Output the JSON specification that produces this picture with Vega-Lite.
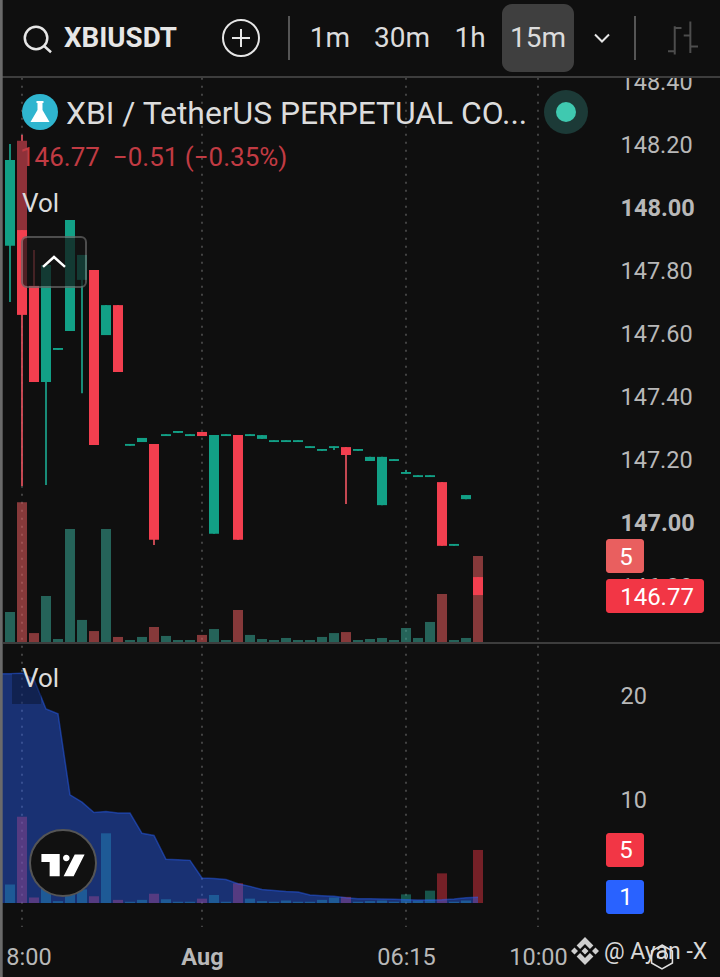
{"$schema":"https://vega.github.io/schema/vega-lite/v6.json","width":720,"height":977,"padding":0,"autosize":{"type":"none"},"background":"#0f0f0f","config":{"view":{"stroke":null},"text":{"font":"Roboto"},"scale":{"continuousPadding":0}},
"datasets":{
"ohlcv":[
{"i":0,"dir":"up","open":147.877,"close":148.149,"high":148.2,"low":147.699,"vol":1.78},
{"i":1,"dir":"down","open":147.927,"close":147.658,"high":148.228,"low":147.116,"vol":8.3},
{"i":2,"dir":"down","open":147.75,"close":147.445,"high":147.864,"low":147.445,"vol":0.53},
{"i":3,"dir":"up","open":147.445,"close":147.816,"high":147.816,"low":147.119,"vol":2.73},
{"i":4,"dir":"up","open":147.547,"close":147.553,"high":147.553,"low":147.547,"vol":0.18},
{"i":5,"dir":"up","open":147.607,"close":147.959,"high":147.959,"low":147.607,"vol":6.7},
{"i":6,"dir":"up","open":147.769,"close":147.848,"high":147.848,"low":147.41,"vol":1.31},
{"i":7,"dir":"down","open":147.8,"close":147.246,"high":147.8,"low":147.246,"vol":0.65},
{"i":8,"dir":"up","open":147.594,"close":147.689,"high":147.689,"low":147.594,"vol":6.7},
{"i":9,"dir":"down","open":147.689,"close":147.477,"high":147.689,"low":147.477,"vol":0.3},
{"i":10,"dir":"up","open":147.243,"close":147.249,"high":147.249,"low":147.243,"vol":0.12},
{"i":11,"dir":"up","open":147.255,"close":147.268,"high":147.268,"low":147.255,"vol":0.3},
{"i":12,"dir":"down","open":147.249,"close":146.945,"high":147.249,"low":146.929,"vol":0.89},
{"i":13,"dir":"up","open":147.274,"close":147.28,"high":147.28,"low":147.274,"vol":0.36},
{"i":14,"dir":"up","open":147.284,"close":147.29,"high":147.29,"low":147.284,"vol":0.12},
{"i":15,"dir":"up","open":147.274,"close":147.28,"high":147.28,"low":147.274,"vol":0.12},
{"i":16,"dir":"down","open":147.287,"close":147.274,"high":147.287,"low":147.274,"vol":0.42},
{"i":17,"dir":"up","open":146.964,"close":147.277,"high":147.277,"low":146.964,"vol":0.77},
{"i":18,"dir":"up","open":147.274,"close":147.28,"high":147.28,"low":147.274,"vol":0.12},
{"i":19,"dir":"down","open":147.277,"close":146.945,"high":147.277,"low":146.945,"vol":1.9},
{"i":20,"dir":"up","open":147.274,"close":147.28,"high":147.28,"low":147.274,"vol":0.42},
{"i":21,"dir":"up","open":147.265,"close":147.277,"high":147.277,"low":147.265,"vol":0.18},
{"i":22,"dir":"up","open":147.255,"close":147.261,"high":147.261,"low":147.255,"vol":0.12},
{"i":23,"dir":"up","open":147.255,"close":147.261,"high":147.261,"low":147.255,"vol":0.24},
{"i":24,"dir":"up","open":147.255,"close":147.261,"high":147.261,"low":147.255,"vol":0.12},
{"i":25,"dir":"up","open":147.236,"close":147.242,"high":147.242,"low":147.236,"vol":0.12},
{"i":26,"dir":"up","open":147.227,"close":147.233,"high":147.233,"low":147.227,"vol":0.3},
{"i":27,"dir":"up","open":147.236,"close":147.242,"high":147.242,"low":147.23,"vol":0.53},
{"i":28,"dir":"down","open":147.239,"close":147.214,"high":147.239,"low":147.059,"vol":0.59},
{"i":29,"dir":"up","open":147.227,"close":147.233,"high":147.233,"low":147.227,"vol":0.12},
{"i":30,"dir":"up","open":147.195,"close":147.208,"high":147.208,"low":147.195,"vol":0.18},
{"i":31,"dir":"up","open":147.055,"close":147.208,"high":147.208,"low":147.055,"vol":0.24},
{"i":32,"dir":"up","open":147.195,"close":147.201,"high":147.201,"low":147.195,"vol":0.12},
{"i":33,"dir":"up","open":147.154,"close":147.16,"high":147.166,"low":147.154,"vol":0.83},
{"i":34,"dir":"up","open":147.144,"close":147.15,"high":147.15,"low":147.144,"vol":0.24},
{"i":35,"dir":"up","open":147.144,"close":147.15,"high":147.15,"low":147.144,"vol":1.19},
{"i":36,"dir":"down","open":147.128,"close":146.926,"high":147.128,"low":146.926,"vol":2.85},
{"i":37,"dir":"up","open":146.926,"close":146.932,"high":146.932,"low":146.926,"vol":0.12},
{"i":38,"dir":"up","open":147.074,"close":147.087,"high":147.087,"low":147.074,"vol":0.24},
{"i":39,"dir":"down","open":146.827,"close":146.77,"high":146.827,"low":146.77,"vol":5.1}
],
"ma":[{"i":-1,"ma":22.05},{"i":0,"ma":22.05},{"i":1,"ma":22.08},{"i":2,"ma":21.5},{"i":3,"ma":18.65},{"i":4,"ma":18.2},{"i":5,"ma":10.4},{"i":6,"ma":9.7},{"i":7,"ma":8.7},{"i":8,"ma":8.8},{"i":9,"ma":8.65},{"i":10,"ma":8.65},{"i":11,"ma":6.7},{"i":12,"ma":6.5},{"i":13,"ma":4.2},{"i":14,"ma":4.15},{"i":15,"ma":4.1},{"i":16,"ma":2.4},{"i":17,"ma":2.35},{"i":18,"ma":2.25},{"i":19,"ma":1.85},{"i":20,"ma":1.6},{"i":21,"ma":1.3},{"i":22,"ma":1.2},{"i":23,"ma":1.1},{"i":24,"ma":1.05},{"i":25,"ma":0.77},{"i":26,"ma":0.7},{"i":27,"ma":0.65},{"i":28,"ma":0.5},{"i":29,"ma":0.42},{"i":30,"ma":0.4},{"i":31,"ma":0.38},{"i":32,"ma":0.35},{"i":33,"ma":0.32},{"i":34,"ma":0.3},{"i":35,"ma":0.3},{"i":36,"ma":0.32},{"i":37,"ma":0.38},{"i":38,"ma":0.5},{"i":39,"ma":0.55}],
"priceTicks":[{"price":148.4},{"price":148.2},{"price":148.0},{"price":147.8},{"price":147.6},{"price":147.4},{"price":147.2},{"price":147.0},{"price":146.8}],
"volTicks":[{"vol":0},{"vol":10},{"vol":20}],
"timeTicks":[{"i":1},{"i":16},{"i":33},{"i":44}]
},
"encoding":{"x":{"field":"i","type":"quantitative","scale":{"domain":[-0.8333,59.1667],"nice":false,"zero":false,"padding":0},"axis":{"orient":"bottom","offset":-20,"values":[1,16,33,44],"title":null,"domain":false,"ticks":false,"grid":false,"labelPadding":0,"labelBaseline":"middle","labelFont":"Roboto","labelFontSize":23.5,"labelColor":"#b8b8b8","labelOverlap":false,"labelFlush":false,"labelBound":false,"labelExpr":"datum.value==1?'8:00':datum.value==16?'Aug':datum.value==33?'06:15':'10:00'","labelFontWeight":{"condition":{"test":"datum.value==16","value":"bold"},"value":"normal"},"labelOffset":{"condition":{"test":"datum.value==1","value":6.5},"value":0}}}},
"resolve":{"scale":{"y":"independent"},"axis":{"y":"independent"}},
"layer":[
{"data":{"name":"priceTicks"},"mark":{"type":"rule","color":"#555555","strokeWidth":1.5,"strokeDash":[2,6]},"encoding":{"y":{"field":"price","type":"quantitative","scale":{"domain":[145.5594,148.6561],"zero":false,"nice":false},"axis":{"orient":"right","offset":-100,"values":[148.4,148.2,148,147.8,147.6,147.4,147.2,147,146.8],"format":".2f","title":null,"domain":false,"ticks":false,"grid":false,"labelPadding":0,"labelOffset":1.5,"labelAlign":"left","labelBaseline":"middle","labelFont":"Roboto","labelFontSize":23.5,"labelColor":"#b8b8b8","labelOverlap":false,"labelFlush":false,"labelBound":false,"labelFontWeight":{"condition":{"test":"datum.value==148||datum.value==147","value":"bold"},"value":"normal"}}},"x":{"datum":-0.583,"type":"quantitative","scale":{"domain":[-0.8333,59.1667],"nice":false,"zero":false,"padding":0}},"x2":{"datum":49}}},
{"data":{"name":"volTicks"},"mark":{"type":"rule","color":"#555555","strokeWidth":1.5,"strokeDash":[2,6]},"encoding":{"y":{"field":"vol","type":"quantitative","scale":{"domain":[-7.115,86.827],"zero":false,"nice":false},"axis":{"orient":"right","offset":-100,"values":[10,20],"format":"d","title":null,"domain":false,"ticks":false,"grid":false,"labelPadding":0,"labelOffset":1.5,"labelAlign":"left","labelBaseline":"middle","labelFont":"Roboto","labelFontSize":23.5,"labelColor":"#b8b8b8","labelOverlap":false,"labelFlush":false,"labelBound":false}},"x":{"datum":-0.583,"type":"quantitative","scale":{"domain":[-0.8333,59.1667],"nice":false,"zero":false,"padding":0}},"x2":{"datum":49}}},
{"data":{"name":"timeTicks"},"mark":{"type":"rule","color":"#555555","strokeWidth":1.5,"strokeDash":[2,6]},"encoding":{"y":{"datum":148.41,"type":"quantitative","scale":{"domain":[145.5594,148.6561],"zero":false,"nice":false},"axis":null},"y2":{"datum":145.718}}},
{"data":{"name":"ohlcv"},"mark":{"type":"bar","size":10,"opacity":0.45},"encoding":{"y":{"field":"vol","type":"quantitative","scale":{"domain":[-7.115,86.827],"zero":false,"nice":false},"axis":null},"y2":{"datum":0},"color":{"condition":{"test":"datum.dir=='up'","value":"#22ab94"},"value":"#f23645"}}},
{"data":{"name":"ma"},"mark":{"type":"area","color":"#2962ff","opacity":0.42,"orient":"vertical"},"encoding":{"y":{"field":"ma","type":"quantitative","scale":{"domain":[-7.115,86.827],"zero":false,"nice":false},"axis":null},"y2":{"datum":0}}},
{"data":{"name":"ma"},"mark":{"type":"line","color":"#2962ff","opacity":0.45,"strokeWidth":1.5},"encoding":{"y":{"field":"ma","type":"quantitative","scale":{"domain":[-7.115,86.827],"zero":false,"nice":false},"axis":null}}},
{"data":{"name":"ohlcv"},"mark":{"type":"bar","size":10,"opacity":0.53},"encoding":{"y":{"field":"vol","type":"quantitative","scale":{"domain":[-19.881,38.101],"zero":false,"nice":false},"axis":null},"y2":{"datum":0},"color":{"condition":{"test":"datum.dir=='up'","value":"#39ae9b"},"value":"#ef5f60"}}},
{"data":{"name":"ohlcv"},"mark":{"type":"rule","strokeWidth":1.8},"encoding":{"y":{"field":"high","type":"quantitative","scale":{"domain":[145.5594,148.6561],"zero":false,"nice":false},"axis":null},"y2":{"field":"low"},"color":{"condition":{"test":"datum.dir=='up'","value":"#1a9a84"},"value":"#d94f5a"}}},
{"data":{"name":"ohlcv"},"mark":{"type":"bar","size":10},"encoding":{"y":{"field":"open","type":"quantitative","scale":{"domain":[145.5594,148.6561],"zero":false,"nice":false},"axis":null},"y2":{"field":"close"},"color":{"condition":{"test":"datum.dir=='up'","value":"#12a086"},"value":"#f23f4f"}}},
{"data":{"values":[{"i":1,"top":148.21,"bottom":147.927}]},"mark":{"type":"bar","size":10,"color":"#8f3139"},"encoding":{"y":{"field":"top","type":"quantitative","scale":{"domain":[145.5594,148.6561],"zero":false,"nice":false},"axis":null},"y2":{"field":"bottom"}}},
{"data":{"values":[{"price":146.77}]},"mark":{"type":"rule","color":"#e0565d","strokeWidth":1.5,"strokeDash":[2,6]},"encoding":{"y":{"field":"price","type":"quantitative","scale":{"domain":[145.5594,148.6561],"zero":false,"nice":false},"axis":null},"x":{"datum":-0.583,"type":"quantitative","scale":{"domain":[-0.8333,59.1667],"nice":false,"zero":false,"padding":0}},"x2":{"datum":49.667}}},
{"data":{"values":[{"i":0.167,"i2":2.583,"top":146.5198,"bottom":146.4247}]},"mark":{"type":"rect","color":"#000000","opacity":0.3},"encoding":{"x2":{"field":"i2"},"y":{"field":"top","type":"quantitative","scale":{"domain":[145.5594,148.6561],"zero":false,"nice":false},"axis":null},"y2":{"field":"bottom"}}},
{"data":{"values":[{"i":1,"i2":6.333,"top":147.9049,"bottom":147.7464}]},"mark":{"type":"rect","color":"#141414","opacity":0.72,"stroke":"#666666","strokeWidth":2,"cornerRadius":5},"encoding":{"x2":{"field":"i2"},"y":{"field":"top","type":"quantitative","scale":{"domain":[145.5594,148.6561],"zero":false,"nice":false},"axis":null},"y2":{"field":"bottom"}}},
{"data":{"values":[{"i":3.667,"price":147.8257}]},"mark":{"type":"point","shape":"M-1,.45 L0,-.45 L1,.45","size":484,"filled":false,"opacity":1,"color":"#ffffff","strokeWidth":2.5},"encoding":{"y":{"field":"price","type":"quantitative","scale":{"domain":[145.5594,148.6561],"zero":false,"nice":false},"axis":null}}},
{"data":{"values":[{"i":-0.8333,"i2":59.1667,"top":148.6561,"bottom":148.4152}]},"mark":{"type":"rect","color":"#0f0f0f"},"encoding":{"x2":{"field":"i2"},"y":{"field":"top","type":"quantitative","scale":{"domain":[145.5594,148.6561],"zero":false,"nice":false},"axis":null},"y2":{"field":"bottom"}}},
{"data":{"values":[{"i":-0.8333,"i2":59.1667,"price":148.412},{"i":-0.583,"i2":59.1667,"price":146.618}]},"mark":{"type":"rule","color":"#3d3d3d","strokeWidth":2},"encoding":{"x2":{"field":"i2"},"y":{"field":"price","type":"quantitative","scale":{"domain":[145.5594,148.6561],"zero":false,"nice":false},"axis":null}}},
{"data":{"values":[{"i":-0.8333,"i2":-0.6083,"top":148.6561,"bottom":145.5594}]},"mark":{"type":"rect","color":"#6a6a6a"},"encoding":{"x2":{"field":"i2"},"y":{"field":"top","type":"quantitative","scale":{"domain":[145.5594,148.6561],"zero":false,"nice":false},"axis":null},"y2":{"field":"bottom"}}},
{"data":{"values":[{"i":23.25,"top":148.6054,"bottom":148.4659},{"i":52.083,"top":148.6054,"bottom":148.4659}]},"mark":{"type":"rule","color":"#555555","strokeWidth":2},"encoding":{"y":{"field":"top","type":"quantitative","scale":{"domain":[145.5594,148.6561],"zero":false,"nice":false},"axis":null},"y2":{"field":"bottom"}}},
{"data":{"values":[{"i":41,"i2":47,"top":148.6434,"bottom":148.4279}]},"mark":{"type":"rect","color":"#3f3f3f","cornerRadius":10},"encoding":{"x2":{"field":"i2"},"y":{"field":"top","type":"quantitative","scale":{"domain":[145.5594,148.6561],"zero":false,"nice":false},"axis":null},"y2":{"field":"bottom"}}},
{"data":{"values":[{"i":2.17,"price":148.5357}]},"mark":{"type":"point","shape":"M.75,0 A.75,.75 0 1 1 -.75,0 A.75,.75 0 1 1 .75,0 M.52,.52 L1,.95","size":900,"filled":false,"opacity":1,"color":"#e6e6e6","strokeWidth":2.5},"encoding":{"y":{"field":"price","type":"quantitative","scale":{"domain":[145.5594,148.6561],"zero":false,"nice":false},"axis":null}}},
{"data":{"values":[{"i":19.25,"price":148.5357}]},"mark":{"type":"point","shape":"M1.2,0 A1.2,1.2 0 1 1 -1.2,0 A1.2,1.2 0 1 1 1.2,0 M-.6,0 L.6,0 M0,-.6 L0,.6","size":900,"filled":false,"opacity":1,"color":"#e6e6e6","strokeWidth":2},"encoding":{"y":{"field":"price","type":"quantitative","scale":{"domain":[145.5594,148.6561],"zero":false,"nice":false},"axis":null}}},
{"data":{"values":[{"i":49.333,"price":148.5357}]},"mark":{"type":"point","shape":"M-1,-.5 L0,.5 L1,-.5","size":196,"filled":false,"opacity":1,"color":"#e6e6e6","strokeWidth":2},"encoding":{"y":{"field":"price","type":"quantitative","scale":{"domain":[145.5594,148.6561],"zero":false,"nice":false},"axis":null}}},
{"data":{"values":[{"i":56.083,"price":148.5357}]},"mark":{"type":"point","shape":"M-.55,-.78 L-.55,1.1 M-.55,-.67 L-.1,-.67 M-.55,.89 L-1,.89 M.49,-1.1 L.49,1 M.49,-.16 L.05,-.16 M.49,.56 L1,.56","size":900,"filled":false,"opacity":1,"color":"#4d4d4d","strokeWidth":2},"encoding":{"y":{"field":"price","type":"quantitative","scale":{"domain":[145.5594,148.6561],"zero":false,"nice":false},"axis":null}}},
{"data":{"values":[{"label":"XBIUSDT","i":4.5,"price":148.5357}]},"mark":{"type":"text","align":"left","baseline":"middle","dy":1.5,"font":"Roboto","fontSize":27.7,"fontWeight":"bold","color":"#e6e6e6"},"encoding":{"text":{"field":"label"},"y":{"field":"price","type":"quantitative","scale":{"domain":[145.5594,148.6561],"zero":false,"nice":false},"axis":null}}},
{"data":{"values":[{"label":"1m","i":26.667,"price":148.5357},{"label":"30m","i":32.667,"price":148.5357},{"label":"1h","i":38.333,"price":148.5357},{"label":"15m","i":44,"price":148.5357}]},"mark":{"type":"text","align":"center","baseline":"middle","dy":1.5,"font":"Roboto","fontSize":28,"color":"#dcdcdc"},"encoding":{"text":{"field":"label"},"y":{"field":"price","type":"quantitative","scale":{"domain":[145.5594,148.6561],"zero":false,"nice":false},"axis":null}}},
{"data":{"values":[{"i":2.5,"price":148.3011}]},"mark":{"type":"point","shape":"circle","size":1296,"filled":true,"opacity":1,"color":"#2fb5cf"},"encoding":{"y":{"field":"price","type":"quantitative","scale":{"domain":[145.5594,148.6561],"zero":false,"nice":false},"axis":null}}},
{"data":{"values":[{"i":2.5,"price":148.3011}]},"mark":{"type":"point","shape":"M-.35,-1.1 L.35,-1.1 L.35,-.9 L.25,-.9 L.25,-.2 L.95,1 L-.95,1 L-.25,-.2 L-.25,-.9 L-.35,-.9Z","size":400,"filled":true,"opacity":1,"color":"#ffffff"},"encoding":{"y":{"field":"price","type":"quantitative","scale":{"domain":[145.5594,148.6561],"zero":false,"nice":false},"axis":null}}},
{"data":{"values":[{"label":"XBI / TetherUS PERPETUAL CO...","i":4.667,"price":148.3011}]},"mark":{"type":"text","align":"left","baseline":"middle","dy":1.5,"font":"Roboto","fontSize":31.8,"color":"#dcdcdc"},"encoding":{"text":{"field":"label"},"y":{"field":"price","type":"quantitative","scale":{"domain":[145.5594,148.6561],"zero":false,"nice":false},"axis":null}}},
{"data":{"values":[{"i":46.333,"price":148.3011}]},"mark":{"type":"point","shape":"circle","size":1936,"filled":true,"opacity":1,"color":"#1c3a37"},"encoding":{"y":{"field":"price","type":"quantitative","scale":{"domain":[145.5594,148.6561],"zero":false,"nice":false},"axis":null}}},
{"data":{"values":[{"i":46.333,"price":148.3011}]},"mark":{"type":"point","shape":"circle","size":400,"filled":true,"opacity":1,"color":"#3fc9b0"},"encoding":{"y":{"field":"price","type":"quantitative","scale":{"domain":[145.5594,148.6561],"zero":false,"nice":false},"axis":null}}},
{"data":{"values":[{"label":"146.77\u00a0\u00a0−0.51 (−0.35%)","i":0.833,"price":148.1585}]},"mark":{"type":"text","align":"left","baseline":"middle","dy":1,"font":"Roboto","fontSize":26,"color":"#c13b43"},"encoding":{"text":{"field":"label"},"y":{"field":"price","type":"quantitative","scale":{"domain":[145.5594,148.6561],"zero":false,"nice":false},"axis":null}}},
{"data":{"values":[{"label":"Vol","i":1,"price":148.0127},{"label":"Vol","i":1,"price":146.507}]},"mark":{"type":"text","align":"left","baseline":"middle","dy":1,"font":"Roboto","fontSize":26,"color":"#dcdcdc"},"encoding":{"text":{"field":"label"},"y":{"field":"price","type":"quantitative","scale":{"domain":[145.5594,148.6561],"zero":false,"nice":false},"axis":null}}},
{"data":{"values":[{"i":4.4167,"price":145.9207}]},"mark":{"type":"point","shape":"circle","size":4356,"filled":true,"opacity":1,"color":"#111111","stroke":"#555555","strokeWidth":2},"encoding":{"y":{"field":"price","type":"quantitative","scale":{"domain":[145.5594,148.6561],"zero":false,"nice":false},"axis":null}}},
{"data":{"values":[{"i":4.4167,"price":145.9207}]},"mark":{"type":"point","shape":"M-1.44,-.6 L-.22,-.6 L-.22,.89 L-.89,.89 L-.89,-.07 L-1.44,-.07Z M.44,-.33 A.22,.22 0 1 1 0,-.33 A.22,.22 0 1 1 .44,-.33Z M.78,-.56 L1.44,-.56 L.71,.89 L.04,.89Z","size":900,"filled":true,"opacity":1,"color":"#ffffff"},"encoding":{"y":{"field":"price","type":"quantitative","scale":{"domain":[145.5594,148.6561],"zero":false,"nice":false},"axis":null}}},
{"data":{"values":[{"i":49.667,"i2":57.833,"top":146.8209,"bottom":146.7131},{"i":49.667,"i2":52.833,"top":146.0158,"bottom":145.9081}]},"mark":{"type":"rect","color":"#f23645","cornerRadius":3},"encoding":{"x2":{"field":"i2"},"y":{"field":"top","type":"quantitative","scale":{"domain":[145.5594,148.6561],"zero":false,"nice":false},"axis":null},"y2":{"field":"bottom"}}},
{"data":{"values":[{"i":49.667,"i2":52.833,"top":146.9477,"bottom":146.8399}]},"mark":{"type":"rect","color":"#e95f5f","cornerRadius":3},"encoding":{"x2":{"field":"i2"},"y":{"field":"top","type":"quantitative","scale":{"domain":[145.5594,148.6561],"zero":false,"nice":false},"axis":null},"y2":{"field":"bottom"}}},
{"data":{"values":[{"i":49.667,"i2":52.833,"top":145.8669,"bottom":145.7591}]},"mark":{"type":"rect","color":"#2962ff","cornerRadius":3},"encoding":{"x2":{"field":"i2"},"y":{"field":"top","type":"quantitative","scale":{"domain":[145.5594,148.6561],"zero":false,"nice":false},"axis":null},"y2":{"field":"bottom"}}},
{"data":{"values":[{"label":"146.77","i":53.92,"price":146.7639},{"label":"5","i":51.33,"price":146.8906},{"label":"5","i":51.33,"price":145.962},{"label":"1","i":51.33,"price":145.813}]},"mark":{"type":"text","align":"center","baseline":"middle","dy":1,"font":"Roboto","fontSize":24,"color":"#ffffff"},"encoding":{"text":{"field":"label"},"y":{"field":"price","type":"quantitative","scale":{"domain":[145.5594,148.6561],"zero":false,"nice":false},"axis":null}}},
{"data":{"values":[{"i":47.917,"price":145.6418}]},"mark":{"type":"point","shape":"M0,-.25 L.25,0 L0,.25 L-.25,0Z M-1,0 L-.75,-.25 L-.5,0 L-.75,.25Z M1,0 L.75,-.25 L.5,0 L.75,.25Z M0,-1 L.6,-.4 L.35,-.15 L0,-.5 L-.35,-.15 L-.6,-.4Z M0,1 L.6,.4 L.35,.15 L0,.5 L-.35,.15 L-.6,.4Z","size":784,"filled":true,"opacity":1,"color":"#cfcfcf"},"encoding":{"y":{"field":"price","type":"quantitative","scale":{"domain":[145.5594,148.6561],"zero":false,"nice":false},"axis":null}}},
{"data":{"values":[{"label":"@ Ayan -X","i":49.5,"price":145.6418}]},"mark":{"type":"text","align":"left","baseline":"middle","dy":1,"font":"Roboto","fontSize":23,"color":"#d8d8d8"},"encoding":{"text":{"field":"label"},"y":{"field":"price","type":"quantitative","scale":{"domain":[145.5594,148.6561],"zero":false,"nice":false},"axis":null}}},
{"data":{"values":[{"i":54.333,"price":145.6228}]},"mark":{"type":"point","shape":"M0,-1 L.87,-.5 L.87,.5 L0,1 L-.87,.5 L-.87,-.5Z M-.3,.1 A.4,.4 0 1 1 .3,.2","size":576,"filled":false,"opacity":1,"color":"#e0e0e0","strokeWidth":1.5},"encoding":{"y":{"field":"price","type":"quantitative","scale":{"domain":[145.5594,148.6561],"zero":false,"nice":false},"axis":null}}}
]}
